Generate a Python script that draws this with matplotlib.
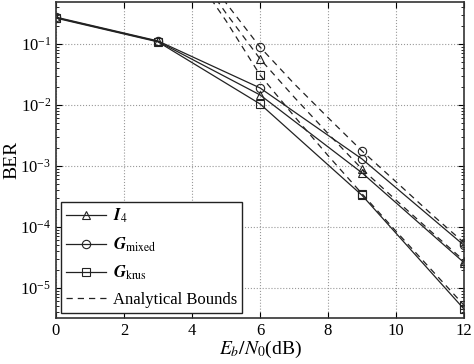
import matplotlib
matplotlib.use('Agg')
import matplotlib.pyplot as plt
import numpy as np

plt.rcParams['font.family'] = ['Liberation Serif', 'DejaVu Serif']
plt.rcParams['mathtext.fontset'] = 'stix'

# simulated BER
snr_sim = [0, 3, 6, 9, 12]
ber_i4 = [0.27, 0.11, 0.0146, 7.7e-4, 2.6e-5]
ber_mixed = [0.275, 0.112, 0.019, 1.3e-3, 5.0e-5]
ber_krus = [0.265, 0.108, 0.0104, 3.3e-4, 4.5e-6]

# analytical bounds
snr_bound = [4, 5, 6, 7, 8, 9, 10, 11, 12]
bound_i4 = [2.0, 0.32, 0.057, 0.0135, 3.4e-3, 8.9e-4, 2.75e-4, 8.7e-5, 2.8e-5]
bound_mixed = [3.0, 0.47, 0.089, 0.0224, 6.2e-3, 1.76e-3, 5.5e-4, 1.7e-4, 5.5e-5]
bound_krus = [1.55, 0.24, 0.031, 6.6e-3, 1.48e-3, 3.5e-4, 8.5e-5, 2.1e-5, 5.2e-6]

series = [
    (r'$\boldsymbol{I}_4$', '^', ber_i4, bound_i4),
    (r'$\boldsymbol{G}_{\mathrm{mixed}}$', 'o', ber_mixed, bound_mixed),
    (r'$\boldsymbol{G}_{\mathrm{krus}}$', 's', ber_krus, bound_krus),
]

fig = plt.figure(figsize=(4.74, 3.64), dpi=100)
ax = fig.add_axes([0.118, 0.126, 0.861, 0.869])

for label, mk, sim, bnd in series:
    ax.semilogy(snr_sim, sim, '-', color='#222222', lw=0.9, marker=mk,
                ms=6, mfc='none', mec='#222222', mew=0.8, label=label)
    ax.semilogy(snr_bound, bnd, '--', color='#222222', lw=0.9, marker=mk,
                ms=6, mfc='none', mec='#222222', mew=0.8,
                markevery=[2, 5, 8], dashes=(5, 4))
ax.plot([], [], '--', color='#222222', lw=0.9, dashes=(5, 4),
        label='Analytical Bounds')

ax.set_xlim(0, 12)
ax.set_ylim(3.2e-6, 0.49)
ax.set_xticks(range(0, 13, 2))
ax.grid(True, which='major', linestyle=':', color='#999999', lw=0.8)
ax.tick_params(which='both', direction='in', top=True, right=True,
               labelsize=12)
ax.tick_params(which='major', length=4)
ax.tick_params(which='minor', length=2)
for s in ax.spines.values():
    s.set_linewidth(1.2)
    s.set_color('#333333')

ax.set_xlabel(r'$E_b/N_0$(dB)', fontsize=14, labelpad=0)
ax.set_ylabel('BER', fontsize=14, labelpad=0)

leg = ax.legend(loc='lower left', fontsize=12, frameon=True, fancybox=False,
                edgecolor='#222222', framealpha=1, handlelength=2.4,
                borderpad=0.3, labelspacing=0.6, handletextpad=0.4,
                borderaxespad=0.3)
leg.get_frame().set_linewidth(1.0)

fig.savefig('out.png', dpi=100)
